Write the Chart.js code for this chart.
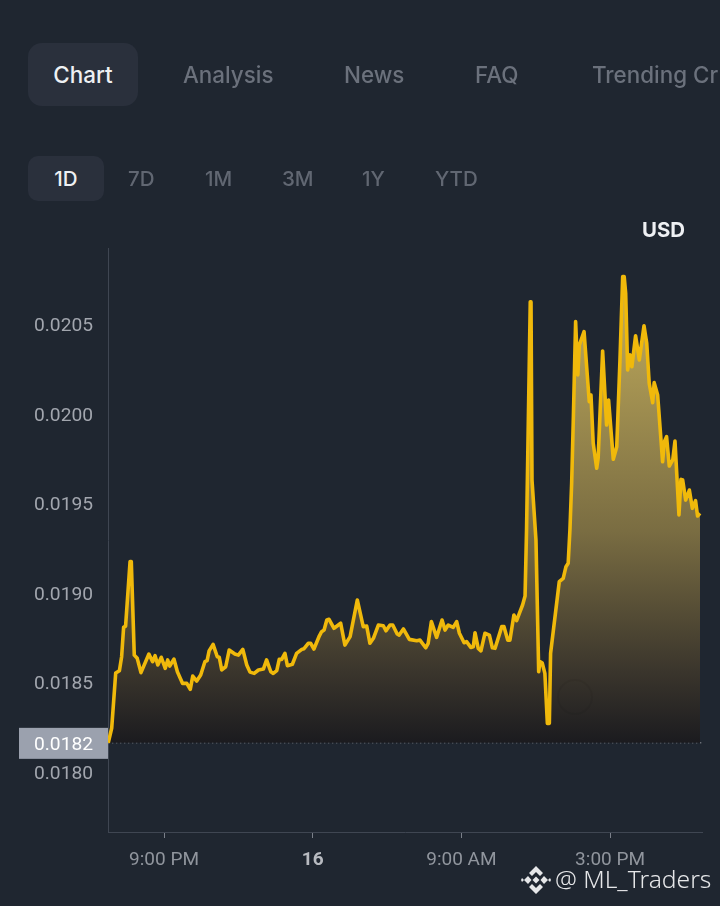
<!DOCTYPE html>
<html>
<head>
<meta charset="utf-8">
<script src="https://cdn.jsdelivr.net/npm/chart.js@4"></script>
<style>
  html, body { margin: 0; padding: 0; background: #1f2630; }
  body { position: relative; width: 720px; height: 906px; overflow: hidden; }
  canvas { position: absolute; left: 0; top: 0; }
  .tab, .range, .usd, .mark { position: absolute; white-space: nowrap; font-family: "Inter", sans-serif; }
  .tab { top: 43px; height: 63px; line-height: 63px; font-size: 22.4px; font-weight: 500; color: #6b717c; }
  .range { top: 156px; height: 45px; line-height: 45px; font-size: 20.5px; font-weight: 500; color: #616772; }
  .on { color: #eef0f3; background: #2a303c; text-align: center; }
  .usd { left: 642px; top: 217px; font-size: 20.4px; font-weight: 700; color: #eef0f3; }
  .mark { left: 555px; top: 862px; font-family: "Noto Sans", sans-serif; font-size: 24.6px; font-weight: 300; color: #e6e7e9; }
  svg { position: absolute; }
</style>
</head>
<body>
<canvas id="price" width="720" height="906"></canvas>

<div class="tab on" style="left:28px;width:110px;border-radius:14px">Chart</div>
<div class="tab" style="left:183px">Analysis</div>
<div class="tab" style="left:344px">News</div>
<div class="tab" style="left:475px">FAQ</div>
<div class="tab" style="left:592px">Trending Cr</div>

<div class="range on" style="left:28px;width:76px;border-radius:10px">1D</div>
<div class="range" style="left:128px">7D</div>
<div class="range" style="left:205px">1M</div>
<div class="range" style="left:282px">3M</div>
<div class="range" style="left:362px">1Y</div>
<div class="range" style="left:435px">YTD</div>

<div class="usd">USD</div>

<svg style="left:556px;top:678px" width="38" height="38" viewBox="0 0 38 38" fill="none" stroke="#000000" stroke-opacity="0.05" stroke-width="2">
  <circle cx="19" cy="19" r="17"/>
</svg>

<svg style="left:521px;top:865px" width="30" height="30" viewBox="0 0 30 30" fill="#e6e7e9">
  <path d="M15 1l7 7-3 3-4-4-4 4-3-3z"/>
  <path d="M15 29l7-7-3-3-4 4-4-4-3 3z"/>
  <path d="M7 11l3.500 4-3.500 4-4-4zM23 11l4 4-4 4-3.500-4z"/>
  <path d="M15 11.500l3.500 3.500-3.500 3.500-3.500-3.500z"/>
  <path d="M1 13l2 2-2 2-1-2zM29 13l1 2-1 2-2-2z"/>
</svg>
<div class="mark">@ ML_Traders</div>

<script>
const hours = [
  -2.25, -2.11, -1.95, -1.80, -1.71, -1.63, -1.55, -1.37, -1.32, -1.20, -1.08, -0.93, -0.61, -0.46, -0.36, -0.25,
  -0.11, 0.05, 0.15, 0.23, 0.40, 0.54, 0.75, 0.92, 1.06, 1.16, 1.32, 1.48, 1.65, 1.74, 1.82, 1.98,
  2.15, 2.23, 2.33, 2.49, 2.63, 2.86, 3.00, 3.18, 3.34, 3.47, 3.64, 3.81, 4.01, 4.14, 4.31, 4.41,
  4.55, 4.65, 4.75, 4.88, 4.98, 5.18, 5.35, 5.56, 5.65, 5.82, 5.92, 6.05, 6.27, 6.36, 6.46, 6.57,
  6.66, 6.86, 7.13, 7.30, 7.51, 7.80, 8.04, 8.18, 8.31, 8.45, 8.65, 8.85, 8.96, 9.12, 9.23, 9.41,
  9.49, 9.66, 9.90, 10.20, 10.33, 10.56, 10.66, 10.79, 11.00, 11.22, 11.34, 11.47, 11.67, 11.81, 11.92, 12.11,
  12.21, 12.38, 12.48, 12.55, 12.68, 12.79, 12.95, 13.13, 13.25, 13.36, 13.63, 13.72, 13.87, 13.96, 14.12, 14.23,
  14.34, 14.47, 14.57, 14.63, 14.78, 14.81, 14.85, 15.01, 15.12, 15.17, 15.26, 15.37, 15.47, 15.55, 15.60, 15.95,
  16.11, 16.22, 16.31, 16.38, 16.45, 16.52, 16.61, 16.70, 16.76, 16.95, 17.16, 17.23, 17.32, 17.46, 17.52, 17.70,
  17.86, 17.94, 18.13, 18.27, 18.40, 18.51, 18.57, 18.63, 18.71, 18.80, 18.88, 19.03, 19.18, 19.37, 19.48, 19.58,
  19.72, 19.78, 19.92, 20.12, 20.19, 20.28, 20.39, 20.53, 20.62, 20.78, 20.86, 20.93, 21.05, 21.20, 21.32, 21.45,
  21.53, 21.63
];
const prices = [
  0.018166, 0.018249, 0.018556, 0.018569, 0.018647, 0.018811, 0.018818, 0.019178, 0.019178, 0.018656, 0.018638, 0.018558, 0.018662, 0.018619, 0.018653, 0.018601,
  0.018644, 0.018582, 0.018629, 0.018595, 0.018634, 0.018563, 0.018498, 0.018498, 0.018465, 0.018539, 0.018511, 0.018545, 0.018619, 0.018625, 0.018680, 0.018716,
  0.018647, 0.018644, 0.018573, 0.018591, 0.018684, 0.018662, 0.018656, 0.018688, 0.018601, 0.018561, 0.018554, 0.018573, 0.018578, 0.018629, 0.018563, 0.018554,
  0.018569, 0.018632, 0.018632, 0.018666, 0.018597, 0.018605, 0.018666, 0.018688, 0.018692, 0.018722, 0.018722, 0.018690, 0.018764, 0.018787, 0.018796, 0.018852,
  0.018856, 0.018806, 0.018834, 0.018712, 0.018759, 0.018964, 0.018815, 0.018818, 0.018722, 0.018750, 0.018824, 0.018820, 0.018792, 0.018824, 0.018824, 0.018774,
  0.018768, 0.018802, 0.018744, 0.018736, 0.018740, 0.018697, 0.018722, 0.018843, 0.018755, 0.018852, 0.018796, 0.018824, 0.018811, 0.018843, 0.018778, 0.018725,
  0.018731, 0.018699, 0.018703, 0.018781, 0.018694, 0.018680, 0.018778, 0.018768, 0.018697, 0.018694, 0.018815, 0.018815, 0.018740, 0.018740, 0.018880, 0.018848,
  0.018889, 0.018936, 0.018986, 0.019355, 0.020629, 0.020629, 0.019634, 0.019299, 0.018563, 0.018619, 0.018613, 0.018554, 0.018275, 0.018275, 0.018666, 0.019066,
  0.019085, 0.019150, 0.019169, 0.019355, 0.019616, 0.019988, 0.020519, 0.020221, 0.020388, 0.020463, 0.020072, 0.020109, 0.019839, 0.019700, 0.019757, 0.020355,
  0.019941, 0.020081, 0.019750, 0.019820, 0.020305, 0.020770, 0.020770, 0.020677, 0.020249, 0.020333, 0.020267, 0.020440, 0.020305, 0.020496, 0.020398, 0.020174,
  0.020066, 0.020178, 0.020109, 0.019736, 0.019848, 0.019876, 0.019712, 0.019746, 0.019852, 0.019439, 0.019638, 0.019634, 0.019522, 0.019578, 0.019476, 0.019519,
  0.019433, 0.019448
];
const basePrice = 0.018166;
const baseLabel = "0.0182";
const priceTicks = [0.018, 0.0185, 0.019, 0.0195, 0.02, 0.0205];
const hourTicks = [0, 6, 12, 18];
const hourLabels = ["9:00 PM", "16", "9:00 AM", "3:00 PM"];

const line = hours.map((h, i) => ({ x: h, y: prices[i] }));

function fillGradient(context) {
  const chart = context.chart;
  if (!chart.chartArea) return "transparent";
  const yScale = chart.scales.y;
  const g = chart.ctx.createLinearGradient(0, yScale.getPixelForValue(0.0208), 0, yScale.getPixelForValue(basePrice));
  g.addColorStop(0, "#c6b05e");
  g.addColorStop(0.55, "#7a6d42");
  g.addColorStop(0.85, "#3a352c");
  g.addColorStop(1, "#1b1b1f");
  return g;
}

// grey box on the y axis for the opening price
const baseTag = {
  id: "baseTag",
  afterDraw(chart) {
    const c = chart.ctx;
    const y = chart.scales.y.getPixelForValue(basePrice);
    c.save();
    c.fillStyle = "#9ba1ae";
    c.fillRect(19, y - 15, 89, 31);
    c.fillStyle = "#ffffff";
    c.font = "19.2px Roboto";
    c.textAlign = "right";
    c.textBaseline = "middle";
    c.fillText(baseLabel, 93, y + 2);
    c.restore();
  }
};

new Chart(document.getElementById("price"), {
  type: "line",
  data: {
    datasets: [
      {
        data: line,
        borderColor: "#f0b90b",
        borderWidth: 3.6,
        borderJoinStyle: "round",
        pointRadius: 0,
        tension: 0,
        fill: { value: basePrice },
        backgroundColor: fillGradient
      },
      {
        data: [{ x: hours[0], y: basePrice }, { x: 21.71, y: basePrice }],
        borderColor: "#b4b7bc",
        borderWidth: 1,
        borderDash: [1, 3],
        pointRadius: 0,
        fill: false
      }
    ]
  },
  plugins: [baseTag],
  options: {
    responsive: false,
    animation: false,
    layout: { padding: { top: 248, right: 18, left: 0, bottom: 0 } },
    plugins: { legend: { display: false }, tooltip: { enabled: false } },
    scales: {
      x: {
        type: "linear",
        min: -2.26,
        max: 21.71,
        afterBuildTicks: s => { s.ticks = hourTicks.map(v => ({ value: v })); },
        afterFit: s => { s.height = 74; },
        border: { color: "#3f4652" },
        grid: { drawOnChartArea: false, color: "#7b808a", tickLength: 6 },
        ticks: {
          maxRotation: 0,
          autoSkip: false,
          padding: 11,
          color: c => c.index === 1 ? "#b7bac0" : "#90959d",
          font: c => ({ family: "Roboto", size: 19, weight: c.index === 1 ? "bold" : "normal" }),
          callback: (v, i) => hourLabels[i]
        }
      },
      y: {
        min: 0.017668,
        max: 0.02093,
        afterBuildTicks: s => { s.ticks = priceTicks.map(v => ({ value: v })); },
        afterFit: s => { s.width = 108; },
        border: { color: "#3f4652" },
        grid: { display: false, drawTicks: false },
        ticks: {
          padding: 15,
          labelOffset: 1.5,
          color: "#a2a6ae",
          font: { family: "Roboto", size: 19.2 },
          callback: v => v.toFixed(4)
        }
      }
    }
  }
});
</script>
</body>
</html>
